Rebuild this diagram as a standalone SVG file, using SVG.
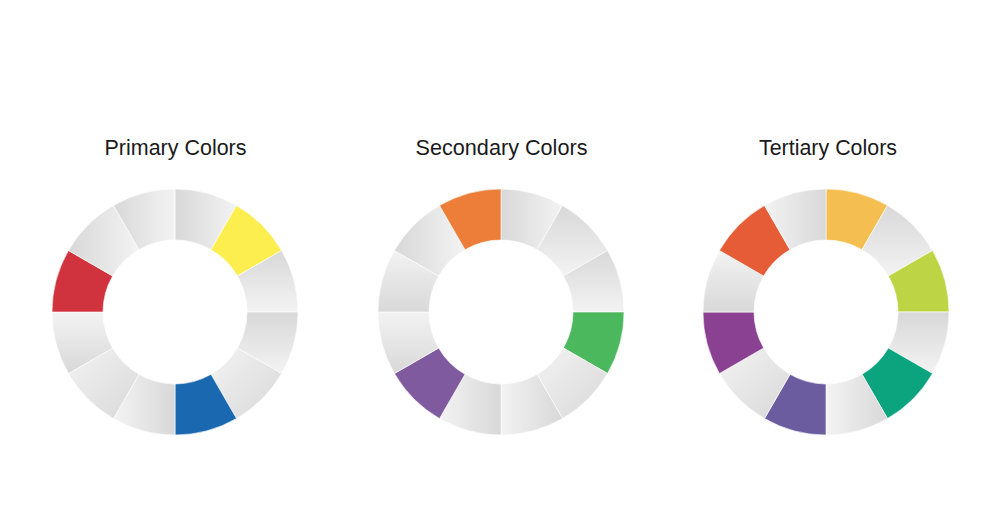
<svg xmlns="http://www.w3.org/2000/svg" xmlns:xlink="http://www.w3.org/1999/xlink" width="1000" height="527" viewBox="0 0 1000 527">
  <style>
    .title { font-family: "Liberation Sans", Arial, sans-serif; font-size: 22.5px; fill: #1a1a1a; text-anchor: middle; }
    .seg { stroke: #ffffff; stroke-width: 0.6; }
  </style>
  <defs>
    <linearGradient id="gLR" x1="0" y1="0" x2="1" y2="0"><stop offset="0" stop-color="#d8d8d8"/><stop offset="1" stop-color="#f3f3f3"/></linearGradient>
    <linearGradient id="gLRl" x1="0" y1="0" x2="1" y2="0"><stop offset="0" stop-color="#f3f3f3"/><stop offset="1" stop-color="#d8d8d8"/></linearGradient>
    <linearGradient id="gTB" x1="0" y1="0" x2="0" y2="1"><stop offset="0" stop-color="#d8d8d8"/><stop offset="1" stop-color="#f3f3f3"/></linearGradient>
    <linearGradient id="gTBl" x1="0" y1="0" x2="0" y2="1"><stop offset="0" stop-color="#f3f3f3"/><stop offset="1" stop-color="#d8d8d8"/></linearGradient>
    <linearGradient id="gDg" x1="0" y1="0" x2="1" y2="1"><stop offset="0" stop-color="#f3f3f3"/><stop offset="1" stop-color="#d8d8d8"/></linearGradient>
    <path id="s0" d="M0,-123 A123,123 0 0 1 61.5,-106.52 L36,-62.35 A72,72 0 0 0 0,-72 Z"/>
    <path id="s1" d="M61.5,-106.52 A123,123 0 0 1 106.52,-61.5 L62.35,-36 A72,72 0 0 0 36,-62.35 Z"/>
    <path id="s2" d="M106.52,-61.5 A123,123 0 0 1 123,0 L72,0 A72,72 0 0 0 62.35,-36 Z"/>
    <path id="s3" d="M123,0 A123,123 0 0 1 106.52,61.5 L62.35,36 A72,72 0 0 0 72,0 Z"/>
    <path id="s4" d="M106.52,61.5 A123,123 0 0 1 61.5,106.52 L36,62.35 A72,72 0 0 0 62.35,36 Z"/>
    <path id="s5" d="M61.5,106.52 A123,123 0 0 1 0,123 L0,72 A72,72 0 0 0 36,62.35 Z"/>
    <path id="s6" d="M0,123 A123,123 0 0 1 -61.5,106.52 L-36,62.35 A72,72 0 0 0 0,72 Z"/>
    <path id="s7" d="M-61.5,106.52 A123,123 0 0 1 -106.52,61.5 L-62.35,36 A72,72 0 0 0 -36,62.35 Z"/>
    <path id="s8" d="M-106.52,61.5 A123,123 0 0 1 -123,0 L-72,0 A72,72 0 0 0 -62.35,36 Z"/>
    <path id="s9" d="M-123,0 A123,123 0 0 1 -106.52,-61.5 L-62.35,-36 A72,72 0 0 0 -72,0 Z"/>
    <path id="s10" d="M-106.52,-61.5 A123,123 0 0 1 -61.5,-106.52 L-36,-62.35 A72,72 0 0 0 -62.35,-36 Z"/>
    <path id="s11" d="M-61.5,-106.52 A123,123 0 0 1 0,-123 L0,-72 A72,72 0 0 0 -36,-62.35 Z"/>
  </defs>
  <rect x="0" y="0" width="1000" height="527" fill="#ffffff"/>

  <g id="primary">
    <text class="title" x="175.5" y="155" textLength="142" lengthAdjust="spacingAndGlyphs">Primary Colors</text>
    <g transform="translate(175,312)" class="seg">
      <use xlink:href="#s0" fill="url(#gLR)"/>
      <use xlink:href="#s1" fill="#fcee4e"/>
      <use xlink:href="#s2" fill="url(#gTB)"/>
      <use xlink:href="#s3" fill="url(#gTB)"/>
      <use xlink:href="#s4" fill="url(#gDg)"/>
      <use xlink:href="#s5" fill="#1a69b0"/>
      <use xlink:href="#s6" fill="url(#gLRl)"/>
      <use xlink:href="#s7" fill="url(#gDg)"/>
      <use xlink:href="#s8" fill="url(#gTBl)"/>
      <use xlink:href="#s9" fill="#d0323e"/>
      <use xlink:href="#s10" fill="url(#gLR)"/>
      <use xlink:href="#s11" fill="url(#gLR)"/>
    </g>
  </g>

  <g id="secondary">
    <text class="title" x="501.5" y="155" textLength="172" lengthAdjust="spacingAndGlyphs">Secondary Colors</text>
    <g transform="translate(501,312)" class="seg">
      <use xlink:href="#s0" fill="url(#gLR)"/>
      <use xlink:href="#s1" fill="url(#gTB)"/>
      <use xlink:href="#s2" fill="url(#gTB)"/>
      <use xlink:href="#s3" fill="#4cb85e"/>
      <use xlink:href="#s4" fill="url(#gDg)"/>
      <use xlink:href="#s5" fill="url(#gLRl)"/>
      <use xlink:href="#s6" fill="url(#gLRl)"/>
      <use xlink:href="#s7" fill="#7f5a9f"/>
      <use xlink:href="#s8" fill="url(#gTBl)"/>
      <use xlink:href="#s9" fill="url(#gTBl)"/>
      <use xlink:href="#s10" fill="url(#gLR)"/>
      <use xlink:href="#s11" fill="#ed7e39"/>
    </g>
  </g>

  <g id="tertiary">
    <text class="title" x="828" y="155" textLength="138" lengthAdjust="spacingAndGlyphs">Tertiary Colors</text>
    <g transform="translate(826,312)" class="seg">
      <use xlink:href="#s0" fill="#f5be50"/>
      <use xlink:href="#s1" fill="url(#gTB)"/>
      <use xlink:href="#s2" fill="#bdd545"/>
      <use xlink:href="#s3" fill="url(#gTB)"/>
      <use xlink:href="#s4" fill="#0ca37f"/>
      <use xlink:href="#s5" fill="url(#gLRl)"/>
      <use xlink:href="#s6" fill="#6a5c9f"/>
      <use xlink:href="#s7" fill="url(#gDg)"/>
      <use xlink:href="#s8" fill="#8a4191"/>
      <use xlink:href="#s9" fill="url(#gTBl)"/>
      <use xlink:href="#s10" fill="#e65c37"/>
      <use xlink:href="#s11" fill="url(#gLRl)"/>
    </g>
  </g>
</svg>
